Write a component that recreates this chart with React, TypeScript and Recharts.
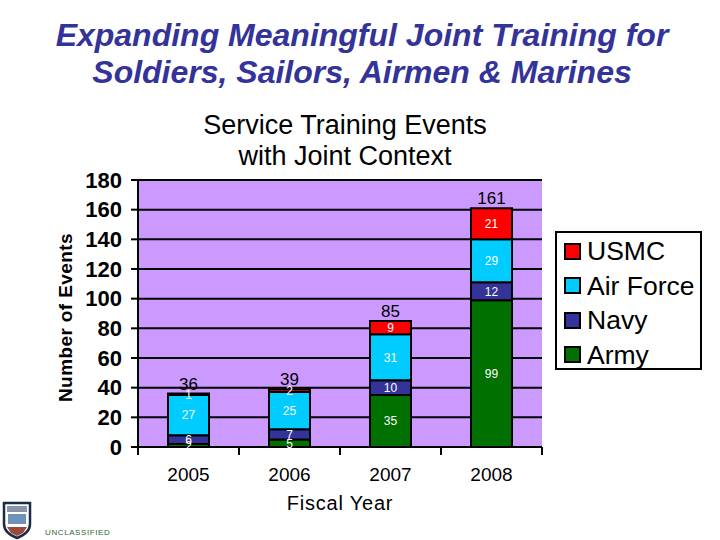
import React from "react";
import {
  BarChart,
  Bar,
  XAxis,
  YAxis,
  CartesianGrid,
  Label,
  LabelList,
  Legend,
} from "recharts";

const years = ["2005", "2006", "2007", "2008"];
const army = [2, 5, 35, 99];
const navy = [6, 7, 10, 12];
const airForce = [27, 25, 31, 29];
const usmc = [1, 2, 9, 21];
const totals = [36, 39, 85, 161];
const yTicks = [0, 20, 40, 60, 80, 100, 120, 140, 160, 180];

const chartData = years.map((year, i) => ({
  year,
  Army: army[i],
  Navy: navy[i],
  "Air Force": airForce[i],
  USMC: usmc[i],
  total: totals[i],
}));

const FONT = "'Liberation Sans', Arial, sans-serif";
const BAND = 101;

// ticks sit on the category boundaries, labels in the middle
const YearTick = (props: any) => {
  const { x, y, payload, index } = props;
  return (
    <g>
      <line x1={x - BAND / 2} x2={x - BAND / 2} y1={y - 8} y2={y} stroke="#000" strokeWidth={2} />
      {index === years.length - 1 && (
        <line x1={x + BAND / 2} x2={x + BAND / 2} y1={y - 8} y2={y} stroke="#000" strokeWidth={2} />
      )}
      <text x={x} y={y + 26} textAnchor="middle" fontSize={19} fill="#000" fontFamily={FONT}>
        {payload.value}
      </text>
    </g>
  );
};

const LegendBox = ({ payload }: any) => (
  <div
    style={{
      boxSizing: "border-box",
      width: 147,
      height: 139,
      border: "2px solid #000",
      background: "#fff",
      paddingTop: 1,
    }}
  >
    {[...(payload || [])].reverse().map((item: any) => (
      <div
        key={item.value}
        style={{ display: "flex", alignItems: "center", height: 34.5, paddingLeft: 7 }}
      >
        <span
          style={{
            boxSizing: "border-box",
            width: 17,
            height: 17,
            border: "2px solid #000",
            background: item.color,
            marginRight: 6,
          }}
        />
        <span style={{ fontSize: 26.5, fontFamily: FONT, color: "#000", lineHeight: "34px" }}>
          {item.value}
        </span>
      </div>
    ))}
  </div>
);

const Seal = () => (
  <svg
    width={32}
    height={40}
    style={{ position: "absolute", left: 1, top: 500 }}
    viewBox="0 0 32 40"
  >
    <path d="M3 3 H29 V24 Q29 33 16 38 Q3 33 3 24 Z" fill="#fff" stroke="#1a2a4a" strokeWidth={2.5} />
    <rect x={6} y={6} width={20} height={6} fill="#8a94a8" />
    <rect x={7} y={14} width={18} height={10} fill="#6f93b8" />
    <path d="M6 27 L26 27 L22 33 L16 36 L10 33 Z" fill="#9a4a3a" />
  </svg>
);

const series = [
  { key: "Army", color: "#007000" },
  { key: "Navy", color: "#333399" },
  { key: "Air Force", color: "#00CCFF" },
  { key: "USMC", color: "#FF0000" },
];

const textBlock = (top: number, left: number, width: number): React.CSSProperties => ({
  position: "absolute",
  top,
  left,
  width,
  textAlign: "center",
  fontFamily: FONT,
  margin: 0,
});

export default function App() {
  return (
    <div
      style={{
        position: "absolute",
        left: 0,
        top: 0,
        width: 720,
        height: 540,
        background: "#fff",
        overflow: "hidden",
      }}
    >
      <div
        style={{
          ...textBlock(17, 0, 724),
          fontSize: 32,
          lineHeight: "37px",
          fontStyle: "italic",
          fontWeight: "bold",
          color: "#333399",
        }}
      >
        Expanding Meaningful Joint Training for
        <br />
        Soldiers, Sailors, Airmen &amp; Marines
      </div>
      <div style={{ ...textBlock(110, 145, 400), fontSize: 27, lineHeight: "31px", color: "#000" }}>
        Service Training Events
        <br />
        with Joint Context
      </div>

      <BarChart
        width={720}
        height={540}
        data={chartData}
        margin={{ top: 180, right: 31, bottom: 0, left: 0 }}
        barCategoryGap={30}
        style={{ position: "absolute", left: 0, top: 0 }}
      >
        <CartesianGrid
          vertical={false}
          stroke="#000"
          strokeWidth={2}
          strokeOpacity={1}
          fill="#CC99FF"
          fillOpacity={1}
        />
        <XAxis
          dataKey="year"
          height={93}
          interval={0}
          axisLine={{ stroke: "#000", strokeWidth: 2 }}
          tickLine={false}
          tick={<YearTick />}
        >
          <Label
            value="Fiscal Year"
            position="insideTop"
            offset={49}
            fontSize={20}
            letterSpacing={0.8}
            fill="#000"
            fontFamily={FONT}
          />
        </XAxis>
        <YAxis
          width={138}
          domain={[0, 180]}
          ticks={yTicks}
          interval={0}
          axisLine={{ stroke: "#000", strokeWidth: 2 }}
          tickLine={{ stroke: "#000", strokeWidth: 2 }}
          tickSize={7}
          tickMargin={9}
          tick={{ fontSize: 22, fontWeight: "bold", fill: "#000", fontFamily: FONT }}
        >
          <Label
            value="Number of Events"
            angle={-90}
            position="insideLeft"
            offset={65}
            dy={4}
            fontSize={19}
            letterSpacing={0.4}
            fontWeight="bold"
            fill="#000"
            fontFamily={FONT}
            style={{ textAnchor: "middle" }}
          />
        </YAxis>
        <YAxis
          yAxisId="frame"
          orientation="right"
          width={0}
          tick={false}
          tickLine={false}
          axisLine={{ stroke: "#000", strokeWidth: 2 }}
        />
        <Legend
          layout="vertical"
          align="right"
          verticalAlign="middle"
          itemSorter={null}
          content={<LegendBox />}
          wrapperStyle={{ position: "absolute", left: 555, top: 231, width: 147, height: 139 }}
        />
        {series.map((s) => (
          <Bar
            key={s.key}
            dataKey={s.key}
            stackId="events"
            fill={s.color}
            stroke="#000"
            strokeWidth={2}
            barSize={41}
            isAnimationActive={false}
          >
            <LabelList
              dataKey={s.key}
              position="center"
              fill="#fff"
              fontSize={12}
              fontFamily={FONT}
            />
            {s.key === "USMC" && (
              <LabelList
                dataKey="total"
                position="top"
                offset={4}
                fill="#000"
                fontSize={17}
                fontFamily={FONT}
              />
            )}
          </Bar>
        ))}
      </BarChart>

      <Seal />
      <div
        style={{
          position: "absolute",
          left: 45,
          top: 527,
          fontSize: 8,
          lineHeight: "11px",
          letterSpacing: 0.6,
          color: "#2f6b2f",
          fontFamily: FONT,
        }}
      >
        UNCLASSIFIED
      </div>
    </div>
  );
}
